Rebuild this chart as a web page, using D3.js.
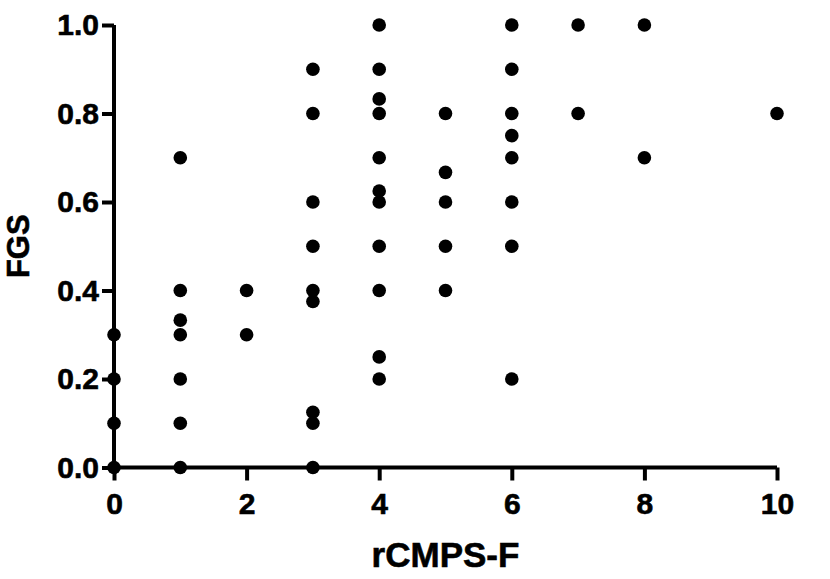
<!DOCTYPE html>
<html>
<head>
<meta charset="utf-8">
<script src="https://cdn.jsdelivr.net/npm/d3@7"></script>
<style>
  body { margin: 0; background: #fff; }
  svg text { font-family: "Liberation Sans", Arial, sans-serif; font-weight: bold; fill: #000; stroke: #000; stroke-width: 0.6px; }
</style>
</head>
<body>
<div id="chart"></div>
<script>
// data, grouped by rCMPS-F value
const rcmps = [0, 0, 0, 0,
    1, 1, 1, 1, 1, 1, 1,
    2, 2,
    3, 3, 3, 3, 3, 3, 3, 3, 3,
    4, 4, 4, 4, 4, 4, 4, 4, 4, 4, 4,
    5, 5, 5, 5, 5,
    6, 6, 6, 6, 6, 6, 6, 6,
    7, 7,
    8, 8,
    10]
const fgs = [0, 0.1, 0.2, 0.3,
    0, 0.1, 0.2, 0.3, 0.333, 0.4, 0.7,
    0.3, 0.4,
    0, 0.1, 0.125, 0.375, 0.4, 0.5, 0.6, 0.8, 0.9,
    0.2, 0.25, 0.4, 0.5, 0.6, 0.625, 0.7, 0.8, 0.833, 0.9, 1.0,
    0.4, 0.5, 0.6, 0.667, 0.8,
    0.2, 0.5, 0.6, 0.7, 0.75, 0.8, 0.9, 1.0,
    0.8, 1.0,
    0.7, 1.0,
    0.8]
const xTicks = [0, 2, 4, 6, 8, 10]
const yTicks = [0, 0.2, 0.4, 0.6, 0.8, 1.0]

const points = rcmps.map((x, i) => ({ x: x, y: fgs[i] }))

let width = 830
let height = 579
let margin = { top: 25, right: 53, bottom: 112, left: 114 }

const svg = d3.select('#chart')
    .append('svg')
    .attr('width', width)
    .attr('height', height)

const xScale = d3.scaleLinear()
    .domain([0, 10])
    .range([margin.left, width - margin.right])

const yScale = d3.scaleLinear()
    .domain([0, 1])
    .range([height - margin.bottom + 0.5, margin.top])

const xAxis = d3.axisBottom(xScale)
    .tickValues(xTicks)
    .tickFormat(d3.format('d'))
    .tickSize(13)
    .tickPadding(11)
const yAxis = d3.axisLeft(yScale)
    .tickValues(yTicks)
    .tickFormat(d3.format('.1f'))
    .tickSize(12)
    .tickPadding(3)

const gx = svg.append('g')
    .attr('transform', 'translate(0,' + yScale(0) + ')')
    .call(xAxis)
const gy = svg.append('g')
    .attr('transform', 'translate(' + xScale(0) + ',0)')
    .call(yAxis)

// thick black axes like the original, no end caps
gx.select('.domain').attr('d', 'M' + xScale(0) + ',0H' + xScale(10))
gy.select('.domain').attr('d', 'M0,' + yScale(0) + 'V' + yScale(1))
svg.selectAll('.domain')
    .attr('stroke', '#000')
    .attr('stroke-width', 4)
svg.selectAll('.tick line')
    .attr('stroke', '#000')
    .attr('stroke-width', 4)
svg.selectAll('.tick text')
    .style('font-size', '30px')
gx.selectAll('.tick text').attr('dy', '0.75em')

// axis titles
svg.append('text')
    .attr('x', (xScale(0) + xScale(10)) / 2)
    .attr('y', 567)
    .attr('text-anchor', 'middle')
    .style('font-size', '35px')
    .text('rCMPS-F')

svg.append('text')
    .attr('transform', 'translate(29,' + yScale(0.5) + ') rotate(-90)')
    .attr('text-anchor', 'middle')
    .style('font-size', '31px')
    .text('FGS')

// the dots
svg.selectAll('circle')
    .data(points)
    .enter()
    .append('circle')
    .attr('r', 6.8)
    .attr('cx', (d) => xScale(d.x))
    .attr('cy', (d) => yScale(d.y))
    .attr('fill', '#000')
</script>
</body>
</html>
